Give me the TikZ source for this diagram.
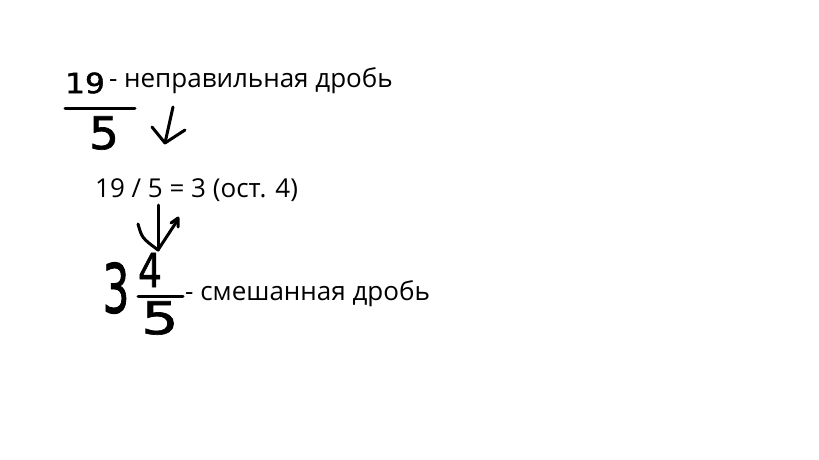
\documentclass[tikz,border=0pt]{standalone}
\usepackage{fontspec}
\setmainfont{Open Sans}
\newfontfamily\handfont[FakeBold=1.4]{DejaVu Sans}
\begin{document}
\begin{tikzpicture}[x=1pt,y=-1pt,
  pen/.style={line width=3pt, line cap=round, line join=round},
  txt/.style={anchor=base west, inner sep=0pt, font=\fontsize{26}{26}\selectfont},
  hand/.style={inner sep=0pt, anchor=center, font=\handfont\fontsize{#1}{#1}\selectfont}]
\useasboundingbox[fill=white] (0,0) rectangle (819,460);
% improper fraction
\node[hand=28, xscale=1.12] (n19) at (85,83) {19};
\coordinate (b1l) at (65,108);
\coordinate (b1r) at (135,108);
\draw[pen] (b1l) -- (b1r);
\node[hand=45, xscale=1.05] (d5a) at (104,133) {5};
\node[txt, anchor=base east] (t1) at (393,88) {- неправильная дробь};
% arrow 1
\coordinate (a1s) at (173,107);
\coordinate (a1t) at (165,143);
\coordinate (a1l) at (152,127);
\coordinate (a1r) at (185,130);
\draw[pen] (a1s) -- (a1t);
\draw[pen] (a1l) -- (a1t) -- (a1r);
% division
\node[txt] (eq) at (95,197) {19 / 5 = 3 (ост. 4)};
% arrow 2
\coordinate (a2s) at (158,205);
\coordinate (a2t) at (158,250);
\coordinate (a2l) at (138,224);
\coordinate (a2r) at (177,221);
\draw[pen] (a2s) -- (a2t);
\draw[pen] (a2l) .. controls (142,238) .. (a2t) -- (a2r);
\draw[pen] (171,223) -- (178,218) -- (178,227);
% mixed fraction
\node[hand=68, xscale=0.62] (w3) at (116,288) {3};
\node[hand=47, xscale=0.8] (n4) at (150,270) {4};
\coordinate (b2l) at (138,296);
\coordinate (b2r) at (183,296);
\draw[pen] (b2l) -- (b2r);
\node[hand=45, xscale=1.3] (d5b) at (160,318) {5};
\node[txt] (t2) at (185,300) {- смешанная дробь};
\end{tikzpicture}
\end{document}
